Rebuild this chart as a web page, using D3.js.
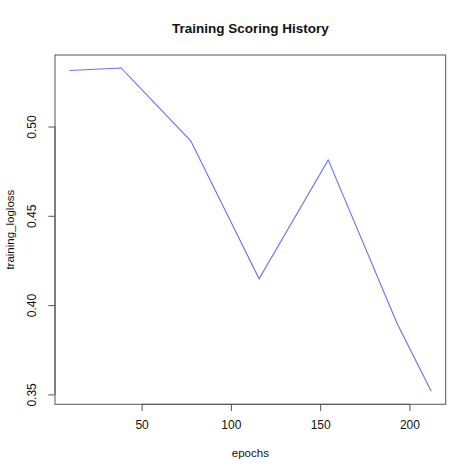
<!DOCTYPE html>
<html>
<head>
<meta charset="utf-8">
<script src="https://cdn.jsdelivr.net/npm/d3@7"></script>
<style>
	body { margin: 0; background: #fff; }
	text { font-family: "Liberation Sans", Arial, sans-serif; fill: #111; }
</style>
</head>
<body>
<div id="chart"></div>
<script>
// scoring history
const epochs = [9.6, 38.5, 77.5, 115.8, 154.5, 193.1, 212.2]
const trainingLogloss = [0.5314, 0.5328, 0.4920, 0.4147, 0.4813, 0.3897, 0.3517]
const xTicks = [50, 100, 150, 200]
const yTicks = [0.35, 0.40, 0.45, 0.50]

const W = 474, H = 474
const margin = { top: 55, right: 28.3, bottom: 69.7, left: 55 }
const width = W - margin.left - margin.right
const height = H - margin.top - margin.bottom

const data = epochs.map((e, i) => ({ epoch: e, value: trainingLogloss[i] }))

// R style 4% padding on each side
const xExt = d3.extent(epochs)
const yExt = d3.extent(trainingLogloss)
const xPad = (xExt[1] - xExt[0]) * 0.04
const yPad = (yExt[1] - yExt[0]) * 0.04

const x = d3.scaleLinear()
	.domain([xExt[0] - xPad, xExt[1] + xPad])
	.range([0, width])

const y = d3.scaleLinear()
	.domain([yExt[0] - yPad, yExt[1] + yPad])
	.range([height, 0])

const svg = d3.select('#chart')
	.append('svg')
	.attr('width', W)
	.attr('height', H)

const g = svg.append('g')
	.attr('transform', `translate(${margin.left},${margin.top})`)

// line
g.append('path')
	.datum(data)
	.attr('fill', 'none')
	.attr('stroke', '#6d6df2')
	.attr('stroke-width', 1.1)
	.attr('d', d3.line().x(d => x(d.epoch)).y(d => y(d.value)))

// box
g.append('rect')
	.attr('x', 0)
	.attr('y', 0)
	.attr('width', width)
	.attr('height', height)
	.attr('fill', 'none')
	.attr('stroke', '#555')
	.attr('stroke-width', 1)

// x axis
const xAxis = g.append('g')
	.attr('transform', `translate(0,${height})`)
	.call(d3.axisBottom(x).tickValues(xTicks).tickSize(6.7).tickPadding(9).tickFormat(d3.format('d')))
xAxis.select('.domain')
	.attr('d', `M${x(xTicks[0])},0H${x(xTicks[xTicks.length - 1])}`)
	.attr('stroke', '#555')
xAxis.selectAll('line').attr('stroke', '#555')
xAxis.selectAll('text').style('font-size', '12px').attr('fill', '#111')

// y axis
const yAxis = g.append('g')
	.call(d3.axisLeft(y).tickValues(yTicks).tickSize(6.7).tickFormat(d3.format('.2f')))
yAxis.select('.domain')
	.attr('d', `M0,${y(yTicks[0])}V${y(yTicks[yTicks.length - 1])}`)
	.attr('stroke', '#555')
yAxis.selectAll('line').attr('stroke', '#555')
yAxis.selectAll('text')
	.style('font-size', '12px')
	.attr('fill', '#111')
	.attr('x', null)
	.attr('dy', null)
	.attr('text-anchor', 'middle')
	.attr('transform', 'translate(-19,0) rotate(-90)')

// title and labels
svg.append('text')
	.attr('x', margin.left + width / 2)
	.attr('y', 33)
	.attr('text-anchor', 'middle')
	.style('font-size', '13.5px')
	.style('font-weight', 'bold')
	.text('Training Scoring History')

svg.append('text')
	.attr('x', margin.left + width / 2)
	.attr('y', 457)
	.attr('text-anchor', 'middle')
	.style('font-size', '11.5px')
	.text('epochs')

svg.append('text')
	.attr('transform', `translate(14,${margin.top + height / 2}) rotate(-90)`)
	.attr('text-anchor', 'middle')
	.style('font-size', '11.5px')
	.text('training_logloss')
</script>
</body>
</html>
